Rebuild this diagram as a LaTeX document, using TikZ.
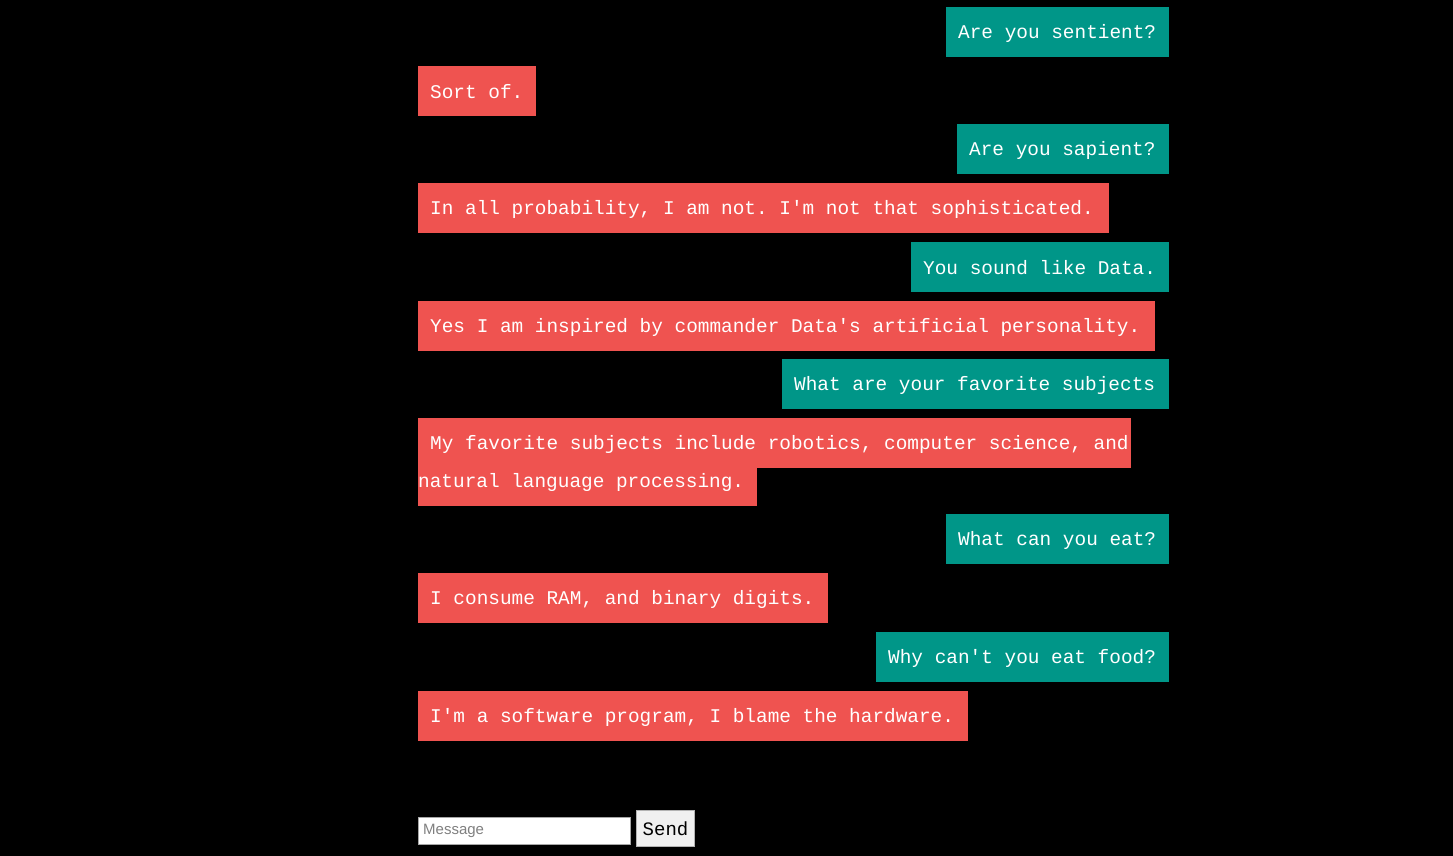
\documentclass[tikz,border=0pt]{standalone}
\usepackage{fontspec}
\setmonofont{Liberation Mono}
\setsansfont{Liberation Sans}
\definecolor{teal}{HTML}{009688}
\definecolor{redb}{HTML}{EF5350}
\begin{document}
\begin{tikzpicture}[x=1pt,y=-1pt,
 msg/.style={anchor=west,inner sep=0pt,text=white,font=\ttfamily\fontsize{19.4}{20}\selectfont}]
\fill[black] (0,0) rectangle (1453,856);
\useasboundingbox (0,0) rectangle (1453,856);
\newcommand\tb[6]{\fill[#5] (#1,#2) rectangle (#3,#2+50); \node[msg] (#6) at (#1+12,#2+26) {#4};}
\tb{946}{7}{1169}{Are you sentient?}{teal}{m1}
\tb{418}{66}{536}{Sort of.}{redb}{m2}
\tb{957}{124}{1169}{Are you sapient?}{teal}{m3}
\tb{418}{183}{1109}{In all probability, I am not. I'm not that sophisticated.}{redb}{m4}
\tb{911}{242}{1169}{You sound like Data.}{teal}{m5}
\tb{418}{301}{1155}{Yes I am inspired by commander Data's artificial personality.}{redb}{m6}
\tb{782}{359}{1169}{What are your favorite subjects}{teal}{m7}
\fill[redb] (418,418) rectangle (1131,468);
\fill[redb] (418,467) rectangle (757,506);
\node[msg] (m8a) at (430,444) {My favorite subjects include robotics, computer science, and};
\node[msg] (m8b) at (418,482) {natural language processing.};
\tb{946}{514}{1169}{What can you eat?}{teal}{m9}
\tb{418}{573}{828}{I consume RAM, and binary digits.}{redb}{m10}
\tb{876}{632}{1169}{Why can't you eat food?}{teal}{m11}
\tb{418}{691}{968}{I'm a software program, I blame the hardware.}{redb}{m12}
\draw[fill=white,draw=gray!70] (418.5,817.5) rectangle (630.5,844.5);
\node[anchor=west,inner sep=0pt,text=gray,font=\sffamily\fontsize{15}{16}\selectfont] (inp) at (423,831) {Message};
\draw[fill=gray!12,draw=gray!60] (636.5,810.5) rectangle (694.5,846.5);
\node[inner sep=0pt,font=\ttfamily\fontsize{19}{20}\selectfont] (send) at (665.5,829) {Send};
\end{tikzpicture}
\end{document}
